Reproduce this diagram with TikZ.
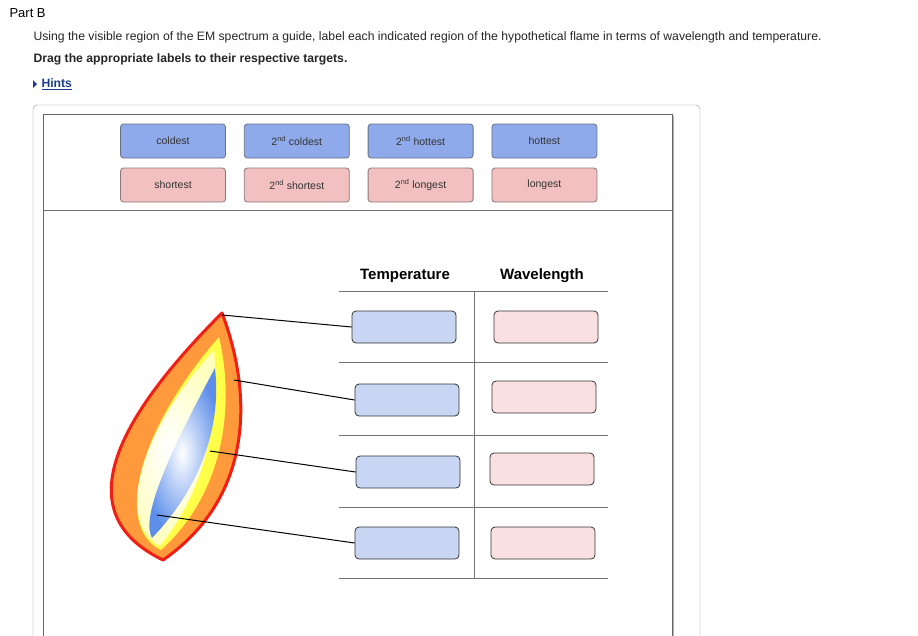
\documentclass[tikz,border=0pt]{standalone}
\usepackage{fontspec}
\setmainfont{Liberation Sans}
\usetikzlibrary{positioning}
\definecolor{tilebl}{HTML}{8EAAEB}
\definecolor{tilepk}{HTML}{F2C0C0}
\definecolor{slotbl}{HTML}{C8D6F4}
\definecolor{slotpk}{HTML}{FBE0E2}
\definecolor{linkblue}{HTML}{1A3E8C}
\definecolor{flamered}{HTML}{F01E14}
\definecolor{flameor}{HTML}{FF9A3C}
\definecolor{flameyl}{HTML}{FFFF4A}
\definecolor{flamebl}{HTML}{5C8EEA}
\tikzset{
  tile/.style={rounded corners=3pt, draw=#1!45!black!80, line width=0.8pt, fill=#1, minimum width=105pt, minimum height=34pt, font=\fontsize{10.5}{12}\selectfont, text=black!80},
  slot/.style={rounded corners=4pt, draw=black!80, line width=0.8pt, fill=#1, minimum width=104pt, minimum height=32pt},
  rule/.style={draw=black!55, line width=1pt}
}
\begin{document}
\begin{tikzpicture}[x=1pt, y=-1pt]
        \useasboundingbox (0,0) rectangle (918,635);
        \fill[white] (0,0) rectangle (918,635);

        % Header texts
        \node[anchor=west, font=\fontsize{13}{15}\selectfont] (part) at (6,13) {Part B};
        \node[anchor=west, font=\fontsize{12.2}{14}\selectfont, text=black!85] (intro) at (30,37) {Using the visible region of the EM spectrum a guide, label each indicated region of the hypothetical flame in terms of wavelength and temperature.};
        \node[anchor=west, font=\bfseries\fontsize{12.2}{14}\selectfont, text=black!85] (drag) at (30,59) {Drag the appropriate labels to their respective targets.};
        \fill[linkblue] (33,80) -- (37,84) -- (33,88) -- cycle;
        \node[anchor=west, font=\bfseries\fontsize{12.2}{14}\selectfont, text=linkblue] (hints) at (38,84) {\underline{Hints}};

        % Frames
        \draw[black!45, rounded corners=4pt] (33,640) -- (33,105) -- (700,105) -- (700,640);
        \draw[black!30, line width=2pt] (673,116) -- (673,640);
        \draw[black!60] (43,640) -- (43,114) -- (672,114) -- (672,640);
        \draw[rule] (43,210) -- (672,210);

        % Label tiles
        \node[tile=tilebl] (t1) at (173,141) {coldest};
        \node[tile=tilebl, right=18pt of t1] (t2) {2\textsuperscript{nd} coldest};
        \node[tile=tilebl, right=18pt of t2] (t3) {2\textsuperscript{nd} hottest};
        \node[tile=tilebl, right=18pt of t3] (t4) {hottest};
        \node[tile=tilepk] (w1) at (173,185) {shortest};
        \node[tile=tilepk, right=18pt of w1] (w2) {2\textsuperscript{nd} shortest};
        \node[tile=tilepk, right=18pt of w2] (w3) {2\textsuperscript{nd} longest};
        \node[tile=tilepk, right=18pt of w3] (w4) {longest};

        % Table
        \node[font=\bfseries\fontsize{15}{17}\selectfont] (temp) at (405,276) {Temperature};
        \node[font=\bfseries\fontsize{15}{17}\selectfont] (wave) at (542,276) {Wavelength};
        \foreach \y in {291,362,435,507,578}
            \draw[rule] (339,\y) -- (608,\y);
        \draw[rule] (474,291) -- (474,578);

        % Target slots
        \node[slot=slotbl] (s1) at (404,327) {};
        \node[slot=slotbl] (s2) at (407,400) {};
        \node[slot=slotbl] (s3) at (408,472) {};
        \node[slot=slotbl] (s4) at (407,543) {};
        \node[slot=slotpk] (p1) at (546,327) {};
        \node[slot=slotpk] (p2) at (544,397) {};
        \node[slot=slotpk] (p3) at (542,469) {};
        \node[slot=slotpk] (p4) at (543,543) {};

        % Flame
        \draw[flamered, line width=3pt, fill=flameor, line join=round]
            (222,313) .. controls (255,400) and (250,500) .. (163,560)
            .. controls (80,520) and (95,440) .. cycle;
        \fill[flameyl] (219,337) .. controls (236,410) and (222,495) .. (161,550)
            .. controls (118,530) and (130,440) .. cycle;
        \shade[inner color=white, outer color=yellow!25] (214,350) .. controls (220,420) and (205,490) .. (160,546)
            .. controls (118,525) and (133,440) .. cycle;
        \shade[inner color=white, outer color=flamebl]
            (215,368) .. controls (222,430) and (198,490) .. (152,538)
            .. controls (142,520) and (160,470) .. cycle;
        \coordinate (f1) at (222,315);
        \coordinate (f2) at (234,380);
        \coordinate (f3) at (210,451);
        \coordinate (f4) at (157,515);

        % Connectors
        \draw[line width=1pt] (f1) -- (s1.west);
        \draw[line width=1pt] (f2) -- (s2.west);
        \draw[line width=1pt] (f3) -- (s3.west);
        \draw[line width=1pt] (f4) -- (s4.west);
\end{tikzpicture}
\end{document}
